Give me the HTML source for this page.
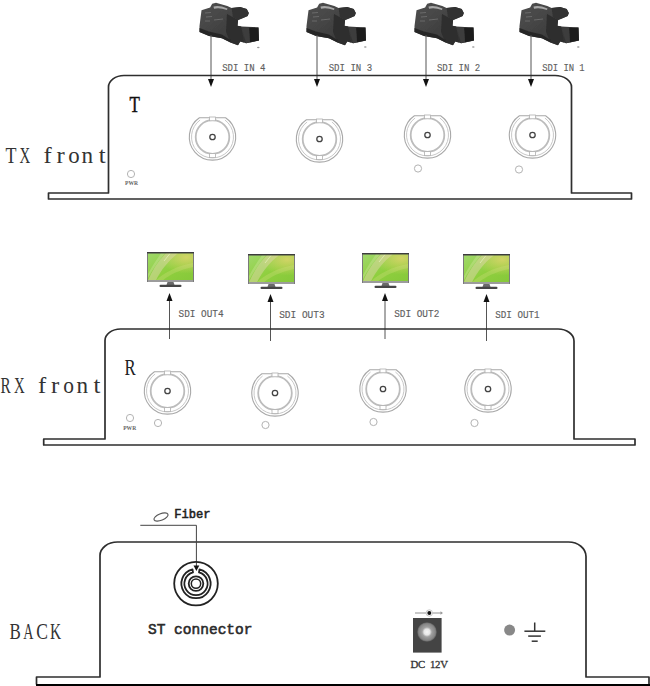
<!DOCTYPE html>
<html><head><meta charset="utf-8">
<style>
html,body{margin:0;padding:0;background:#fff;}
body{width:650px;height:686px;overflow:hidden;}
svg{display:block;}
.lbl{font-family:"Liberation Serif",serif;}
.mono{font-family:"Liberation Mono",monospace;}
</style></head><body>
<svg width="650" height="686" viewBox="0 0 650 686">
<defs>
  <linearGradient id="scr" x1="0" y1="0" x2="1" y2="1">
    <stop offset="0" stop-color="#9fd86a"/>
    <stop offset="0.55" stop-color="#8fcf3e"/>
    <stop offset="1" stop-color="#86c83a"/>
  </linearGradient>
  <linearGradient id="camg" x1="0" y1="0" x2="1" y2="1">
    <stop offset="0" stop-color="#505050"/>
    <stop offset="0.6" stop-color="#3e3e3e"/>
    <stop offset="1" stop-color="#2a2a2a"/>
  </linearGradient>
  <radialGradient id="jack" cx="0.5" cy="0.5" r="0.5">
    <stop offset="0" stop-color="#f6f6f6"/>
    <stop offset="0.3" stop-color="#e6e6e6"/>
    <stop offset="0.5" stop-color="#a0a0a0"/>
    <stop offset="0.85" stop-color="#858585"/>
    <stop offset="1" stop-color="#5c5c5c"/>
  </radialGradient>
  <radialGradient id="scr2" cx="0.85" cy="0.15" r="0.6">
    <stop offset="0" stop-color="#d8d46a" stop-opacity="0.9"/>
    <stop offset="1" stop-color="#d8d46a" stop-opacity="0"/>
  </radialGradient>
  <g id="cam" filter="url(#soft)">
    <path d="M0.5,26 L2.5,10.2 L11.1,7.5 L13.2,3.8 L17,2.7 L28.3,5.9 L32.6,8.1 L41.2,7 L47.7,9.1 L49.8,12.9 L48.7,16.1 L42.3,18.8 L39.1,19.9 L38.5,25.8 L42.3,26.4 L59.5,27.4 L60,40.5 L47,43.2 L41.2,41.5 L39,45.3 L31.5,42.6 L22.9,38.3 L10,36 L0.5,32 Z" fill="url(#camg)"/>
    <path d="M32.6,8.1 L41.2,7 L47.7,9.1 L49.8,12.9 L48.7,16.1 L42.3,18.8 L39.1,19.9 L34,17 Z" fill="#323232"/>
    <path d="M28,14 L39.1,19.9 L38.5,25.8 L42.3,26.4 L45,42.5 L41.2,41.5 L39,45.3 L31.5,42.6 L27,32 Z" fill="#2e2e2e"/>
    <path d="M50,27.8 L59.5,27.4 L60,40.5 L51,42.5 Z" fill="#1f1f1f"/>
    <path d="M0.5,28 L10,31.5 L22.9,34.5 L31.5,40 L31.5,42.6 L22.9,38.3 L10,36 L0.5,32 Z" fill="#282828"/>
    <path d="M14.5,6.6 Q20,5 28.5,8.6 L28,10 Q20,7.2 15,8.8 Z" fill="#a8a8a8"/>
    <path d="M6,13 L12,12.5 M7,17 L13,16.5 M6,21 L11,21 M15,20 L24,19" stroke="#6a6a6a" stroke-width="1"/>
    <path d="M42.5,27 L50,27.8 L51,42.5 L47,43.2 Z" fill="#3c3c3c"/>
  </g>
  <g id="bnc">
    <path d="M-13.1,-19.2 L13.1,-19.2 A23.2 23.2 0 1 1 -13.1,-19.2 Z" fill="none" stroke="#a8a8a8" stroke-width="1.1"/>
    <path d="M-12.4,-17 A21 21 0 1 0 12.4,-17" fill="none" stroke="#c8c8c8" stroke-width="1"/>
    <circle cx="0" cy="0" r="16.8" fill="none" stroke="#bcbcbc" stroke-width="1.8"/>
    <rect x="-3" y="-20" width="6" height="3.8" fill="#fff" stroke="#b0b0b0" stroke-width="0.8"/>
    <rect x="-3" y="16.6" width="6" height="4" fill="#fff" stroke="#b0b0b0" stroke-width="0.8"/>
    <circle cx="0" cy="0" r="2.7" fill="#fff" stroke="#444" stroke-width="1.3"/>
  </g>
  <g id="mon">
    <rect x="0" y="0" width="47" height="30" fill="#7a7a7a"/>
    <rect x="1" y="1.3" width="45" height="27" fill="url(#scr)"/>
    <rect x="1" y="1.3" width="45" height="27" fill="url(#scr2)"/>
    <path d="M1,28.3 C5,19 11,9 19,1.3 L31,1.3 C22,8 14,18 9,28.3 Z" fill="#e6d8b4" opacity="0.45"/>
    <path d="M1,22 C5,14 10,7 14,1.3 L18,1.3 C13,7 7,15 1,26 Z" fill="#d8e8a8" opacity="0.35"/>
    <path d="M9,28.3 C18,20 30,14 46,11 L46,15 C32,18 22,23 16,28.3 Z" fill="#d4df80" opacity="0.3"/>
    <path d="M17,9 L23,1.5" stroke="#eef4c8" stroke-width="0.8" opacity="0.8"/>
    <rect x="0" y="0" width="47" height="1.4" fill="#3c3c3c"/>
    <rect x="1" y="28" width="45" height="2" fill="#9c9c9c"/>
    <path d="M20.5,30 L26.5,30 L27.5,33 L19.5,33 Z" fill="#6a6a6a"/>
    <rect x="12.5" y="32.8" width="22" height="2.2" rx="1.1" fill="#464646"/>
  </g>
  <filter id="soft" x="-10%" y="-10%" width="120%" height="120%"><feGaussianBlur stdDeviation="0.45"/></filter>
  <marker id="ah" viewBox="0 0 6 8" refX="3" refY="8" markerWidth="6" markerHeight="8" orient="auto-start-reverse" markerUnits="userSpaceOnUse">
    <path d="M0,0 L6,0 L3,8 Z" fill="#111"/>
  </marker>
</defs>

<!-- ============ TX ============ -->
<use href="#cam" x="199" y="0"/>
<use href="#cam" x="306" y="0"/>
<use href="#cam" x="414" y="0"/>
<use href="#cam" x="519" y="0"/>
<g fill="#9a9a9a">
  <ellipse cx="258.3" cy="47.5" rx="1.3" ry="0.8"/>
  <ellipse cx="365.3" cy="47" rx="1.3" ry="0.8"/>
  <ellipse cx="473.3" cy="47" rx="1.3" ry="0.8"/>
  <ellipse cx="578.3" cy="47" rx="1.3" ry="0.8"/>
</g>

<g stroke="#555" stroke-width="1">
  <line x1="211" y1="35" x2="211" y2="79"/>
  <line x1="317" y1="35" x2="317" y2="79"/>
  <line x1="426" y1="35" x2="426" y2="79"/>
  <line x1="531" y1="35" x2="531" y2="79"/>
</g>
<g fill="#111">
  <path d="M208,79 L214,79 L211,87 Z"/>
  <path d="M314,79 L320,79 L317,87 Z"/>
  <path d="M423,79 L429,79 L426,87 Z"/>
  <path d="M528,79 L534,79 L531,87 Z"/>
</g>
<g class="mono" font-size="10.4" fill="#5e5e5e" stroke="#5e5e5e" stroke-width="0.15">
  <text x="222.2" y="70.8" textLength="43.2" lengthAdjust="spacingAndGlyphs">SDI IN 4</text>
  <text x="328.7" y="71.2" textLength="43.4" lengthAdjust="spacingAndGlyphs">SDI IN 3</text>
  <text x="436.9" y="70.7" textLength="43.4" lengthAdjust="spacingAndGlyphs">SDI IN 2</text>
  <text x="542.2" y="70.8" textLength="42.5" lengthAdjust="spacingAndGlyphs">SDI IN 1</text>
</g>

<path d="M48.5,199 L48.5,193 L108.5,193 L108.5,87 A15.5 11.5 0 0 1 124,75.5 L555,75.5 A16.5 11.5 0 0 1 571.5,87 L571.5,193 L631.5,193 L631.5,199 Z" fill="none" stroke="#2e2e2e" stroke-width="1.7" stroke-linejoin="round"/>

<g class="lbl" fill="#333">
  <text transform="translate(5.43,162.8) scale(0.765,1)" font-size="23.5">T</text>
  <text transform="translate(19.57,162.8) scale(0.630,1)" font-size="23.5">X</text>
  <text transform="translate(43.56,162.8) scale(1.050,1)" font-size="23.5">f</text>
  <text transform="translate(56.46,162.8) scale(1.050,1)" font-size="23.5">r</text>
  <text transform="translate(68.23,162.8) scale(0.974,1)" font-size="23.5">o</text>
  <text transform="translate(81.47,162.8) scale(0.986,1)" font-size="23.5">n</text>
  <text transform="translate(98.72,162.8) scale(1.050,1)" font-size="23.5">t</text>
</g>
<g class="lbl" fill="#111">
  <text transform="translate(129.49,111.6) scale(0.763,1)" font-size="22.3" stroke="#111" stroke-width="0.45">T</text>
</g>
<circle cx="131" cy="174" r="3.6" fill="none" stroke="#b3b3b3" stroke-width="1"/>
<text class="lbl" x="125" y="185.3" font-size="6.4" font-weight="bold" fill="#666" textLength="13" lengthAdjust="spacingAndGlyphs">PWR</text>

<use href="#bnc" x="212.5" y="137"/>
<use href="#bnc" x="319.5" y="139"/>
<use href="#bnc" x="427.5" y="135"/>
<use href="#bnc" x="532.5" y="135"/>
<circle cx="418" cy="168.5" r="3.6" fill="none" stroke="#b3b3b3" stroke-width="1"/>
<circle cx="519" cy="169.5" r="3.6" fill="none" stroke="#b3b3b3" stroke-width="1"/>

<!-- ============ RX ============ -->
<use href="#mon" x="147" y="252"/>
<use href="#mon" x="248" y="254"/>
<use href="#mon" x="362" y="253"/>
<use href="#mon" x="463" y="254"/>

<g stroke="#555" stroke-width="1">
  <line x1="169.5" y1="300" x2="169.5" y2="339"/>
  <line x1="270.5" y1="301" x2="270.5" y2="341"/>
  <line x1="385" y1="300" x2="385" y2="339"/>
  <line x1="486.5" y1="301" x2="486.5" y2="341"/>
</g>
<g fill="#111">
  <path d="M166.5,301 L172.5,301 L169.5,293 Z"/>
  <path d="M267.5,302 L273.5,302 L270.5,294 Z"/>
  <path d="M382,301 L388,301 L385,293 Z"/>
  <path d="M483.5,302 L489.5,302 L486.5,294 Z"/>
</g>
<g class="mono" font-size="10.4" fill="#5e5e5e" stroke="#5e5e5e" stroke-width="0.15">
  <text x="178.6" y="316.6" textLength="45" lengthAdjust="spacingAndGlyphs">SDI OUT4</text>
  <text x="279.2" y="318.3" textLength="45.4" lengthAdjust="spacingAndGlyphs">SDI OUT3</text>
  <text x="394.2" y="317.2" textLength="45.1" lengthAdjust="spacingAndGlyphs">SDI OUT2</text>
  <text x="495.3" y="317.9" textLength="44.3" lengthAdjust="spacingAndGlyphs">SDI OUT1</text>
</g>

<path d="M43.7,445 L43.7,439 L105,439 L105,340.5 A15.5 11.5 0 0 1 120.5,329 L558,329 A16 12 0 0 1 574,341 L574,439 L635,439 L635,445 Z" fill="none" stroke="#2e2e2e" stroke-width="1.7" stroke-linejoin="round"/>

<g class="lbl" fill="#333">
  <text transform="translate(0.41,392.8) scale(0.651,1)" font-size="23.5">R</text>
  <text transform="translate(14.07,392.8) scale(0.630,1)" font-size="23.5">X</text>
  <text transform="translate(38.06,392.8) scale(1.050,1)" font-size="23.5">f</text>
  <text transform="translate(50.96,392.8) scale(1.050,1)" font-size="23.5">r</text>
  <text transform="translate(63.28,392.8) scale(0.913,1)" font-size="23.5">o</text>
  <text transform="translate(76.47,392.8) scale(0.986,1)" font-size="23.5">n</text>
  <text transform="translate(93.42,392.8) scale(1.050,1)" font-size="23.5">t</text>
</g>
<g class="lbl" fill="#222">
  <text transform="translate(124.51,375) scale(0.700,1)" font-size="24">R</text>
</g>
<circle cx="130" cy="418" r="3.6" fill="none" stroke="#b3b3b3" stroke-width="1"/>
<text class="lbl" x="123.2" y="430.3" font-size="6.4" font-weight="bold" fill="#666" textLength="13" lengthAdjust="spacingAndGlyphs">PWR</text>

<use href="#bnc" x="167.5" y="391"/>
<use href="#bnc" x="275" y="393"/>
<use href="#bnc" x="383" y="389"/>
<use href="#bnc" x="488" y="389"/>
<circle cx="158" cy="423" r="3.6" fill="none" stroke="#b3b3b3" stroke-width="1"/>
<circle cx="265.5" cy="425" r="3.6" fill="none" stroke="#b3b3b3" stroke-width="1"/>
<circle cx="373.5" cy="422" r="3.6" fill="none" stroke="#b3b3b3" stroke-width="1"/>
<circle cx="474.5" cy="423" r="3.6" fill="none" stroke="#b3b3b3" stroke-width="1"/>

<!-- ============ BACK ============ -->
<path d="M36.5,684.5 L36.5,677 L100,677 L100,555.5 A17.5 13.5 0 0 1 117.5,542 L568.5,542 A17.5 14.5 0 0 1 586,556.5 L586,677 L649,677 L649,685" fill="none" stroke="#2e2e2e" stroke-width="1.7" stroke-linejoin="round"/>
<rect x="36" y="684" width="614" height="2" fill="#000"/>

<g class="lbl" fill="#333">
  <text transform="translate(9.51,639) scale(0.716,1)" font-size="23.7">B</text>
  <text transform="translate(23.36,639) scale(0.598,1)" font-size="23.7">A</text>
  <text transform="translate(36.28,639) scale(0.739,1)" font-size="23.7">C</text>
  <text transform="translate(50.05,639) scale(0.649,1)" font-size="23.7">K</text>
</g>

<ellipse cx="161" cy="517" rx="7.5" ry="3.3" transform="rotate(-22 161 517)" fill="none" stroke="#555" stroke-width="1.1"/>
<text class="mono" x="174.3" y="518.3" font-size="12.2" fill="#222" stroke="#222" stroke-width="0.55" textLength="36.3" lengthAdjust="spacingAndGlyphs">Fiber</text>
<path d="M140.3,525.3 L196.4,525.3 L196.4,566" fill="none" stroke="#444" stroke-width="1"/>
<path d="M193.5,565.5 L199.3,565.5 L196.4,571 Z" fill="#111"/>

<circle cx="196" cy="583.6" r="21.8" fill="none" stroke="#222" stroke-width="1.8"/>
<path d="M192.5,569.43 A14.6 14.6 0 1 0 199.5,569.43 L199,572.4 A11.6 11.6 0 1 1 193,572.4 Z" fill="none" stroke="#222" stroke-width="1.8" stroke-linejoin="round"/>
<circle cx="196" cy="583.6" r="7.3" fill="none" stroke="#222" stroke-width="1.8"/>
<circle cx="196" cy="583.6" r="4.7" fill="none" stroke="#222" stroke-width="1.5"/>

<text class="mono" x="148" y="633.6" font-size="14.6" fill="#2a2a2a" stroke="#2a2a2a" stroke-width="0.55" textLength="104.5" lengthAdjust="spacingAndGlyphs">ST connector</text>

<!-- DC jack -->
<line x1="415" y1="613" x2="442" y2="613" stroke="#777" stroke-width="0.8"/>
<circle cx="429.3" cy="613" r="3.2" fill="#fff" stroke="#bbb" stroke-width="0.8"/>
<circle cx="429.3" cy="613" r="2" fill="#111"/>
<path d="M440.5,611.3 L443,613 L440.5,614.7 Z" fill="#999"/>
<rect x="413" y="618" width="28.6" height="34.6" fill="#444"/>
<circle cx="427" cy="632" r="9.8" fill="url(#jack)"/>
<text class="lbl" x="410.5" y="668.4" font-size="10.8" fill="#333" stroke="#333" stroke-width="0.3" textLength="37.5" lengthAdjust="spacing" xml:space="preserve">DC  12V</text>

<!-- ground -->
<circle cx="509.6" cy="630.1" r="5.5" fill="#888"/>
<g stroke="#333" stroke-width="1.5">
  <line x1="534.7" y1="622.5" x2="534.7" y2="631.2"/>
  <line x1="524.4" y1="631.2" x2="545.3" y2="631.2"/>
  <line x1="528.2" y1="636.1" x2="540.9" y2="636.1"/>
  <line x1="531.7" y1="641.2" x2="537.7" y2="641.2"/>
</g>
</svg>
</body></html>
